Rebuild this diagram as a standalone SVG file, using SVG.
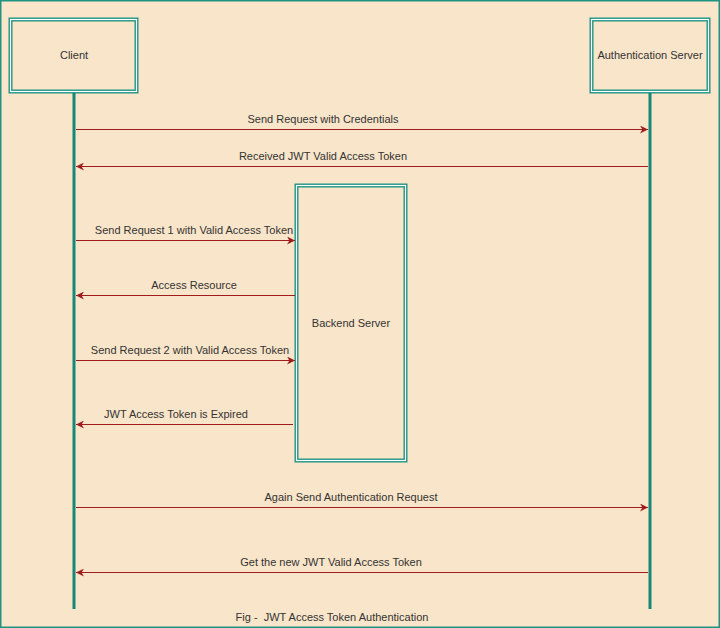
<svg xmlns="http://www.w3.org/2000/svg" width="720" height="628" viewBox="0 0 720 628">
<defs>
<style>
.bg{fill:#F9E5C9;stroke:#1F9484;stroke-width:1.5}
.box{fill:none;stroke:#1F9484;stroke-width:4}
.gap{fill:none;stroke:#FFFFFF;stroke-width:1.2}
.life{stroke:#17877A;stroke-width:3}
.msg{stroke:#A01C1C;stroke-width:1;fill:none}
text{font-family:"Liberation Sans",Arial,sans-serif;font-size:11px;fill:#333333;text-anchor:middle}
</style>
<marker id="ah" viewBox="0 0 10 10" refX="10" refY="5" markerWidth="8" markerHeight="8" markerUnits="userSpaceOnUse" orient="auto">
<path d="M0,0 L10,5 L0,10 L3,5 Z" fill="#A01C1C"/>
</marker>
</defs>
<rect class="bg" x="0.75" y="0.75" width="718.5" height="626.5"/>
<g id="client">
<rect class="box" x="10.5" y="19.5" width="126" height="72"/>
<rect class="gap" x="10.5" y="19.5" width="126" height="72"/>
<text x="74" y="59">Client</text>
</g>
<g id="auth">
<rect class="box" x="591.5" y="19.5" width="117" height="72"/>
<rect class="gap" x="591.5" y="19.5" width="117" height="72"/>
<text x="650" y="59">Authentication Server</text>
</g>
<g id="backend">
<rect class="box" x="296.5" y="185.5" width="109" height="275"/>
<rect class="gap" x="296.5" y="185.5" width="109" height="275"/>
<text x="351" y="327">Backend Server</text>
</g>
<g id="lifelines">
<line class="life" x1="74" y1="93" x2="74" y2="609"/>
<line class="life" x1="650" y1="93" x2="650" y2="609"/>
</g>
<g id="connectors">
<line class="msg" x1="76" y1="129.5" x2="648" y2="129.5" marker-end="url(#ah)"/>
<text x="323" y="123">Send Request with Credentials</text>
<line class="msg" x1="648" y1="166.5" x2="76" y2="166.5" marker-end="url(#ah)"/>
<text x="323" y="160">Received JWT Valid Access Token</text>
<line class="msg" x1="76" y1="240.5" x2="295" y2="240.5" marker-end="url(#ah)"/>
<text x="194" y="234">Send Request 1 with Valid Access Token</text>
<line class="msg" x1="295" y1="295.5" x2="76" y2="295.5" marker-end="url(#ah)"/>
<text x="194" y="289">Access Resource</text>
<line class="msg" x1="76" y1="360.5" x2="295" y2="360.5" marker-end="url(#ah)"/>
<text x="190" y="354">Send Request 2 with Valid Access Token</text>
<line class="msg" x1="293" y1="424.5" x2="76" y2="424.5" marker-end="url(#ah)"/>
<text x="176" y="418">JWT Access Token is Expired</text>
<line class="msg" x1="76" y1="507.5" x2="648" y2="507.5" marker-end="url(#ah)"/>
<text x="351" y="501">Again Send Authentication Request</text>
<line class="msg" x1="648" y1="572.5" x2="76" y2="572.5" marker-end="url(#ah)"/>
<text x="331" y="566">Get the new JWT Valid Access Token</text>
</g>
<text x="332" y="621" xml:space="preserve">Fig -  JWT Access Token Authentication</text>
</svg>
